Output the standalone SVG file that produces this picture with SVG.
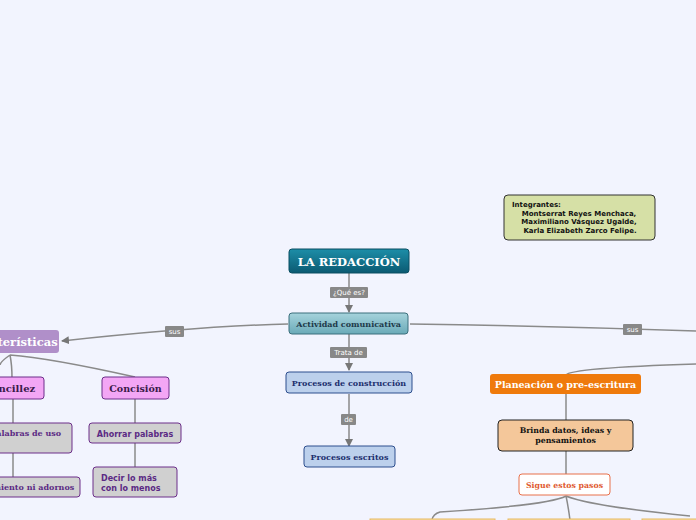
<svg xmlns="http://www.w3.org/2000/svg" width="696" height="520" viewBox="0 0 696 520">
<defs>
<marker id="ar" markerWidth="8" markerHeight="8" refX="7" refY="4" orient="auto" markerUnits="userSpaceOnUse"><path d="M0,0 L8,4 L0,8 z" fill="#777"/></marker>
<linearGradient id="g1" x1="0" y1="0" x2="0" y2="1"><stop offset="0" stop-color="#1d8ea8"/><stop offset="1" stop-color="#0b5a72"/></linearGradient>
<linearGradient id="g2" x1="0" y1="0" x2="0" y2="1"><stop offset="0" stop-color="#a6d3dc"/><stop offset="1" stop-color="#6aaab8"/></linearGradient>
</defs>
<style>
.c{fill:none;stroke:#8a8a8a;stroke-width:1.5}
.lb{fill:#888}
.lt{font-family:"DejaVu Sans",sans-serif;font-size:7px;fill:#fff;text-anchor:middle}
.s{font-family:"DejaVu Serif",serif;font-weight:bold;text-anchor:middle}
.a{font-family:"DejaVu Sans",sans-serif;font-weight:bold;text-anchor:middle}
</style>
<rect width="696" height="520" fill="#f2f4fe"/>
<g id="connectors">
<path class="c" d="M349,273 V312" marker-end="url(#ar)"/>
<path class="c" d="M349,334 V370" marker-end="url(#ar)"/>
<path class="c" d="M349,394 V446" marker-end="url(#ar)"/>
<path class="c" d="M288,324 Q200,326 62,341" marker-end="url(#ar)"/>
<path class="c" d="M410,324 Q550,326 696,331"/>
<path class="c" d="M566,375 Q570,368 696,364"/>
<path class="c" d="M10,355 Q12,365 12,378 M10,355 Q50,358 135,377 M10,355 Q0,362 0,365"/>
<path class="c" d="M13,399 V423 M13,453 V477 M135,399 V423 M135,443 V467"/>
<path class="c" d="M566,394 V420 M566,451 V474 M566,496 Q568,505 570,520 M566,496 Q550,505 440,512 Q433,514 432,520 M566,496 Q590,506 690,516"/>
</g>
<g id="l1"><rect x="330" y="287" width="38" height="11" rx="1" class="lb"/><text x="349" y="295" class="lt">¿Qué es?</text></g>
<g id="l2"><rect x="330" y="347" width="37" height="11" rx="1" class="lb"/><text x="348.5" y="355" class="lt">Trata de</text></g>
<g id="l3"><rect x="341" y="414" width="15" height="11" rx="1" class="lb"/><text x="348.5" y="422" class="lt">de</text></g>
<g id="l4"><rect x="165" y="326" width="19" height="11" rx="1" class="lb"/><text x="174.5" y="334" class="lt">sus</text></g>
<g id="l5"><rect x="623" y="324" width="19" height="11" rx="1" class="lb"/><text x="632.5" y="332" class="lt">sus</text></g>
<g id="root"><rect x="289" y="249" width="120" height="24" rx="3" fill="url(#g1)" stroke="#0b4f63"/><text x="349" y="266" class="s" font-size="11.5" fill="#fff">LA REDACCIÓN</text></g>
<g id="act"><rect x="289" y="313" width="119" height="21" rx="3" fill="url(#g2)" stroke="#3b6f7c"/><text x="348.5" y="327" class="s" font-size="8" fill="#1e3a4a">Actividad comunicativa</text></g>
<g id="proc"><rect x="286" y="372" width="126" height="21" rx="3" fill="#bcd0ec" stroke="#2d4e8e"/><text x="349" y="386" class="s" font-size="8" fill="#1c2f6e">Procesos de construcción</text></g>
<g id="esc"><rect x="304" y="446" width="91" height="21" rx="3" fill="#bcd0ec" stroke="#2d4e8e"/><text x="349.5" y="460" class="s" font-size="8" fill="#1c2f6e">Procesos escritos</text></g>
<g id="int"><rect x="504" y="195" width="151" height="45" rx="4" fill="#d6e0a6" stroke="#333"/>
<text font-family="DejaVu Sans,sans-serif" font-weight="bold" font-size="7" fill="#111"><tspan x="512" y="207">Integrantes:</tspan><tspan x="579" y="216" text-anchor="middle">Montserrat Reyes Menchaca,</tspan><tspan x="579" y="224" text-anchor="middle">Maximiliano Vásquez Ugalde,</tspan><tspan x="580" y="233" text-anchor="middle">Karla Elizabeth Zarco Felipe.</tspan></text></g>
<g id="car"><rect x="-40" y="330" width="99" height="23" rx="3" fill="#b08fc9"/><text x="9" y="346" class="s" font-size="11.5" fill="#fff">Características</text></g>
<g id="sen"><rect x="-30" y="377" width="74" height="22" rx="3" fill="#f3a6f5" stroke="#6c2e8a"/><text x="10" y="392" class="s" font-size="10" fill="#3a1a4a">Sencillez</text></g>
<g id="con"><rect x="102" y="377" width="67" height="22" rx="3" fill="#f3a6f5" stroke="#6c2e8a"/><text x="135.5" y="392" class="s" font-size="9.5" fill="#3a1a4a">Concisión</text></g>
<g id="pal"><rect x="-60" y="423" width="132" height="30" rx="3" fill="#d0d0d0" stroke="#6c2e8a"/><text x="14" y="436" class="s" font-size="8" fill="#5b2a84">Usar palabras de uso</text></g>
<g id="orn"><rect x="-70" y="477" width="150" height="20" rx="3" fill="#d0d0d0" stroke="#6c2e8a"/><text x="7" y="490" class="s" font-size="8" fill="#5b2a84">Sin rebuscamiento ni adornos</text></g>
<g id="aho"><rect x="89" y="423" width="92" height="20" rx="3" fill="#d0d0d0" stroke="#6c2e8a"/><text x="135" y="436.5" class="a" font-size="8" fill="#5b2a84">Ahorrar palabras</text></g>
<g id="dec"><rect x="93" y="467" width="84" height="30" rx="3" fill="#d0d0d0" stroke="#6c2e8a"/><text font-family="DejaVu Sans,sans-serif" font-weight="bold" font-size="8" fill="#5b2a84"><tspan x="101" y="481">Decir lo más</tspan><tspan x="101" y="491">con lo menos</tspan></text></g>
<g id="plan"><rect x="490" y="374" width="151" height="20" rx="3" fill="#ef7a0c"/><text x="565.5" y="388" class="s" font-size="9.5" fill="#fff">Planeación o pre-escritura</text></g>
<g id="bri"><rect x="498" y="420" width="135" height="31" rx="4" fill="#f4c79a" stroke="#222"/><text class="s" font-size="7.8" fill="#111"><tspan x="565.5" y="433">Brinda datos, ideas y</tspan><tspan x="565.5" y="443">pensamientos</tspan></text></g>
<g id="sig"><rect x="519" y="474" width="91" height="21" rx="3" fill="#fff" stroke="#e8704a"/><text x="564.5" y="488" class="s" font-size="7.8" fill="#e05a30">Sigue estos pasos</text></g>
<g id="b1"><rect x="370" y="519" width="125" height="10" fill="#f7e0a6" stroke="#e8b860"/></g>
<g id="b2"><rect x="508" y="519" width="122" height="10" fill="#f7e0a6" stroke="#e8b860"/></g>
<g id="b3"><rect x="642" y="519" width="60" height="10" fill="#f7e0a6" stroke="#e8b860"/></g>
</svg>
